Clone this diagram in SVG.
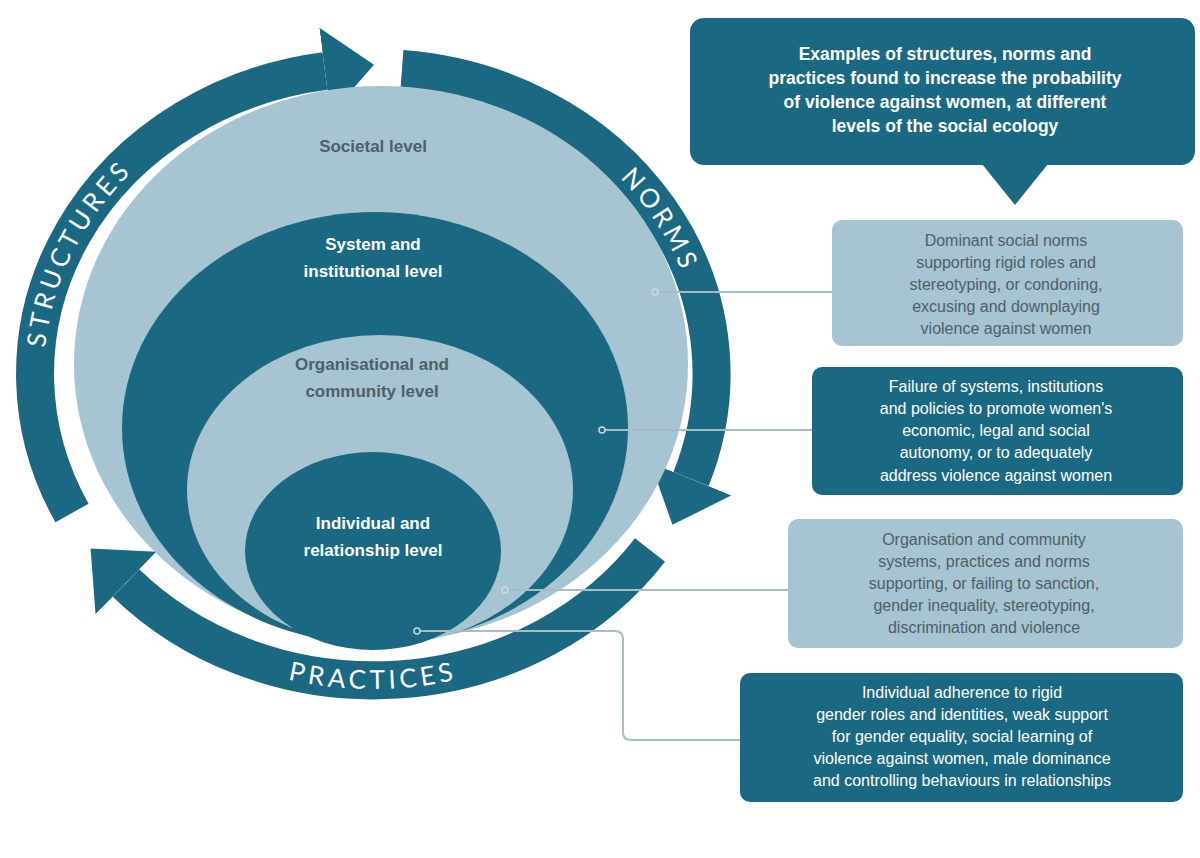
<svg xmlns="http://www.w3.org/2000/svg" width="1200" height="858" viewBox="0 0 1200 858">
<style>
.dark{fill:#1b6883}
.light{fill:#a6c4d1}
.ring{fill:none;stroke:#1b6883;stroke-width:38}
.ringtxt{font-family:Lato,"Open Sans",sans-serif;font-size:26px;fill:#fff;letter-spacing:4px}
.lvl{font-family:"Liberation Sans",Arial,sans-serif;font-weight:bold;font-size:17px;text-anchor:middle}
.bx{font-family:"Liberation Sans",Arial,sans-serif;font-size:16px;text-anchor:middle}
.hd{font-family:"Liberation Sans",Arial,sans-serif;font-weight:bold;font-size:17.5px;text-anchor:middle;fill:#fff}
.wt{fill:#fff}.gt{fill:#4f5f68}
.conn{fill:none;stroke:#a9bcc4;stroke-width:2}
.dot{fill:#a6c4d1;stroke:#c9d8de;stroke-width:1.5}
</style>
<defs>
<marker id="ah" viewBox="0 0 10 10" refX="0" refY="5" markerWidth="1.3" markerHeight="2.3" preserveAspectRatio="none" orient="auto" markerUnits="strokeWidth"><path d="M0,0 L10,5 L0,10 z" fill="#1b6883"/></marker>
<path id="tpS" d="M88,522.5 A329,297 0 0 1 293,86"/>
<path id="tpN" d="M537.5,117 A329,297 0 0 1 702,374"/>
<path id="tpP" d="M199.5,646.8 A347,315 0 0 0 546.5,646.8"/>
</defs>
<g id="rings">
<path class="ring" d="M72,513 A338,306 0 0 1 325,71" marker-end="url(#ah)"/>
<path class="ring" d="M402,69 A338,306 0 0 1 691,479" marker-end="url(#ah)"/>
<path class="ring" d="M650,550 A338,306 0 0 1 126,583" marker-end="url(#ah)"/>
<text class="ringtxt"><textPath href="#tpS" startOffset="50%" text-anchor="middle">STRUCTURES</textPath></text>
<text class="ringtxt"><textPath href="#tpN" startOffset="50%" text-anchor="middle">NORMS</textPath></text>
<text class="ringtxt"><textPath href="#tpP" startOffset="50%" text-anchor="middle">PRACTICES</textPath></text>
</g>
<g id="societal"><ellipse class="light" cx="381" cy="364" rx="307" ry="278"/><text class="lvl gt" x="373" y="152">Societal level</text></g>
<g id="system"><ellipse class="dark" cx="375" cy="428" rx="253" ry="216"/><text class="lvl wt" x="373" y="250">System and</text><text class="lvl wt" x="373" y="277">institutional level</text></g>
<g id="organisational"><ellipse class="light" cx="380" cy="490" rx="193" ry="155"/><text class="lvl gt" x="372" y="370">Organisational and</text><text class="lvl gt" x="372" y="397">community level</text></g>
<g id="individual"><ellipse class="dark" cx="373" cy="551" rx="128" ry="99"/><text class="lvl wt" x="373" y="529">Individual and</text><text class="lvl wt" x="373" y="556">relationship level</text></g>
<g id="connectors">
<line class="conn" x1="655" y1="292" x2="832" y2="292"/>
<line class="conn" x1="602" y1="430" x2="812" y2="430"/>
<line class="conn" x1="505" y1="590" x2="788" y2="590"/>
<path class="conn" d="M417,631 H615 Q623,631 623,639 V732 Q623,740 631,740 H740"/>
<circle class="dot" cx="655" cy="292" r="3"/><circle class="dot" cx="602" cy="430" r="3" style="fill:#1b6883"/>
<circle class="dot" cx="505" cy="590" r="3"/><circle class="dot" cx="417" cy="631" r="3" style="fill:#1b6883"/>
</g>
<g id="header"><rect class="dark" x="690" y="18" width="505" height="147" rx="14"/><polygon class="dark" points="982,164 1048,164 1015,205"/>
<text class="hd" x="945" y="60">Examples of structures, norms and</text><text class="hd" x="945" y="84">practices found to increase the probability</text><text class="hd" x="945" y="108">of violence against women, at different</text><text class="hd" x="945" y="132">levels of the social ecology</text></g>
<g id="box1"><rect class="light" x="832" y="220" width="351" height="126" rx="10"/>
<text class="bx gt" x="1006" y="246">Dominant social norms</text><text class="bx gt" x="1006" y="268">supporting rigid roles and</text><text class="bx gt" x="1006" y="290">stereotyping, or condoning,</text><text class="bx gt" x="1006" y="312">excusing and downplaying</text><text class="bx gt" x="1006" y="334">violence against women</text></g>
<g id="box2"><rect class="dark" x="812" y="367" width="371" height="128" rx="10"/>
<text class="bx wt" x="996" y="392">Failure of systems, institutions</text><text class="bx wt" x="996" y="414">and policies to promote women's</text><text class="bx wt" x="996" y="436">economic, legal and social</text><text class="bx wt" x="996" y="458">autonomy, or to adequately</text><text class="bx wt" x="996" y="481">address violence against women</text></g>
<g id="box3"><rect class="light" x="788" y="519" width="395" height="129" rx="10"/>
<text class="bx gt" x="984" y="545">Organisation and community</text><text class="bx gt" x="984" y="567">systems, practices and norms</text><text class="bx gt" x="984" y="589">supporting, or failing to sanction,</text><text class="bx gt" x="984" y="611">gender inequality, stereotyping,</text><text class="bx gt" x="984" y="633">discrimination and violence</text></g>
<g id="box4"><rect class="dark" x="740" y="673" width="443" height="129" rx="10"/>
<text class="bx wt" x="962" y="698">Individual adherence to rigid</text><text class="bx wt" x="962" y="720">gender roles and identities, weak support</text><text class="bx wt" x="962" y="742">for gender equality, social learning of</text><text class="bx wt" x="962" y="764">violence against women, male dominance</text><text class="bx wt" x="962" y="786">and controlling behaviours in relationships</text></g>
</svg>
